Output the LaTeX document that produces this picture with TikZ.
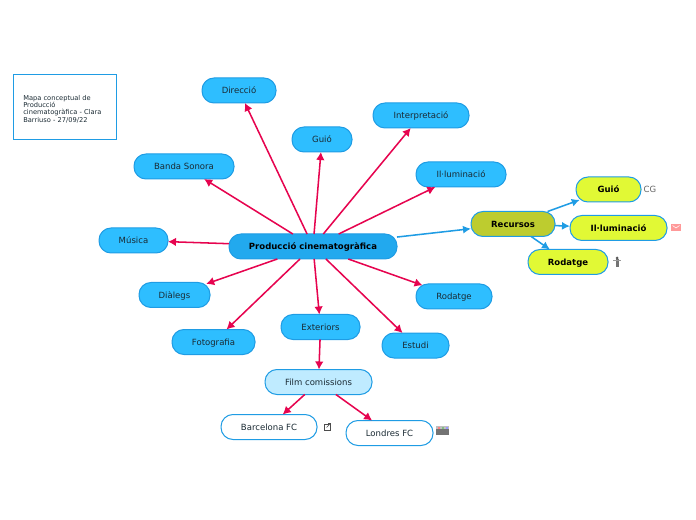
\documentclass[tikz,border=0pt]{standalone}
\usepackage{fontspec}
\setmainfont{DejaVu Sans}
\usetikzlibrary{arrows.meta}
\definecolor{edgeb}{HTML}{1F9CE4}
\definecolor{cyanf}{HTML}{2EBEFF}
\definecolor{mainf}{HTML}{22A9EE}
\definecolor{recf}{HTML}{BDCC2F}
\definecolor{yelf}{HTML}{E1F935}
\definecolor{filmf}{HTML}{BFEBFF}
\definecolor{pinkl}{HTML}{E6044F}
\definecolor{txt}{HTML}{1A2A33}
\tikzset{
  base/.style={draw=edgeb,line width=0.75pt,rounded corners=9pt,inner sep=0pt,outer sep=0pt,minimum height=18.75pt,text height=6pt,text depth=1pt,text=txt,font=\fontsize{6.4}{8}\selectfont},
  topic/.style={base,fill=cyanf},
  wbox/.style={base,fill=white},
  film/.style={base,fill=filmf},
  yel/.style={base,fill=yelf,text=black,font=\fontsize{6.4}{8}\selectfont\bfseries},
  wide/.style={minimum width=#1*0.75pt},
  pk/.style={draw=pinkl,line width=1.15pt,-{Latex[length=6pt,width=6.5pt]}},
  bl/.style={draw=edgeb,line width=1.15pt,-{Latex[length=6pt,width=6pt]}},
}
\begin{document}
\begin{tikzpicture}[x=0.75pt,y=-0.75pt]
\useasboundingbox (0,0) rectangle (696,520);
\node[base,fill=mainf,wide=168,text=black,font=\fontsize{6.4}{8}\selectfont\bfseries] (main) at (313,246.5) {Producció cinematogràfica};
\node[topic,wide=74] (dir) at (239,90.5) {Direcció};
\node[topic,wide=60] (gui) at (322,139.5) {Guió};
\node[topic,wide=96] (int) at (421,115.5) {Interpretació};
\node[topic,wide=90] (ilu) at (461,174.5) {Il·luminació};
\node[topic,wide=100] (ban) at (184,166.5) {Banda Sonora};
\node[topic,wide=69] (mus) at (133.5,240.5) {Música};
\node[topic,wide=71] (dia) at (174.5,295) {Diàlegs};
\node[topic,wide=83] (fot) at (213.5,342) {Fotografia};
\node[topic,wide=79] (ext) at (320.5,327) {Exteriors};
\node[topic,wide=67] (est) at (415.5,345.5) {Estudi};
\node[topic,wide=76] (rod) at (454,296.5) {Rodatge};
\node[film,wide=107] (fil) at (318.5,382) {Film comissions};
\node[wbox,wide=96] (bar) at (269,427) {Barcelona FC};
\node[wbox,wide=87] (lon) at (389.5,433) {Londres FC};
\node[base,fill=recf,wide=84,text=black,font=\fontsize{6.4}{8}\selectfont\bfseries] (rec) at (513,224) {Recursos};
\node[yel,wide=65] (ygu) at (608.5,189.5) {Guió};
\node[yel,wide=97] (yil) at (618.5,228) {Il·luminació};
\node[yel,wide=80] (yro) at (568,262) {Rodatge};
\node[draw=edgeb,line width=0.75pt,minimum width=77.25pt,minimum height=48.75pt,inner sep=0pt,outer sep=0pt] (note) at (64.5,107.5) {};
\node[anchor=west,inner sep=0pt,align=left,font=\fontsize{5}{5.6}\selectfont,text=txt] (notetxt) at (23,109) {Mapa conceptual de\\Producció\\cinematogràfica - Clara\\Barriuso - 27/09/22};
\foreach \t in {dir,gui,int,ilu,ban,mus,fot,ext,est}
  \draw[pk] (main) -- (\t);
\draw[pk,shorten >=-3pt] (main) -- (dia);
\draw[pk,shorten >=-3pt] (main) -- (rod);
\draw[pk] (ext) -- (fil);
\draw[pk] (fil) -- (bar);
\draw[pk] (fil) -- (lon);
\draw[bl] (main) -- (rec);
\draw[bl,shorten >=-3pt] (rec) -- (ygu);
\draw[bl] (rec) -- (yil);
\draw[bl] (rec) -- (yro);
% icons
\node[inner sep=0pt,text=black!60,font=\fontsize{6.4}{7}\selectfont] (cg) at (650,189) {CG};
\fill[red!40] (671,224) rectangle (681,231);
\draw[white,line width=0.4pt] (672.5,225.5) -- (676,228) -- (679.5,225.5);
\fill[black!55] (615.5,259) rectangle (618.5,267);
\fill[black!65] (617,258) circle (1.5);
\draw[black!40,line width=0.4pt] (613,260) -- (621,260);
\draw[black!70,line width=0.4pt] (329,424) -- (324,424) -- (324,430) -- (330,430) -- (330,426);
\draw[black!70,line width=0.4pt] (326.5,427.5) -- (330.5,423.5) (328,423.5) -- (330.5,423.5) -- (330.5,426);
\fill[black!55] (436,429) rectangle (449,435);
\fill[black!25] (436,426) rectangle (449,429);
\fill[red!50] (438,426.5) rectangle (440,428.5);
\fill[green!50!black!50] (442,426.5) rectangle (444,428.5);
\fill[blue!40] (446,426.5) rectangle (448,428.5);
\end{tikzpicture}
\end{document}
